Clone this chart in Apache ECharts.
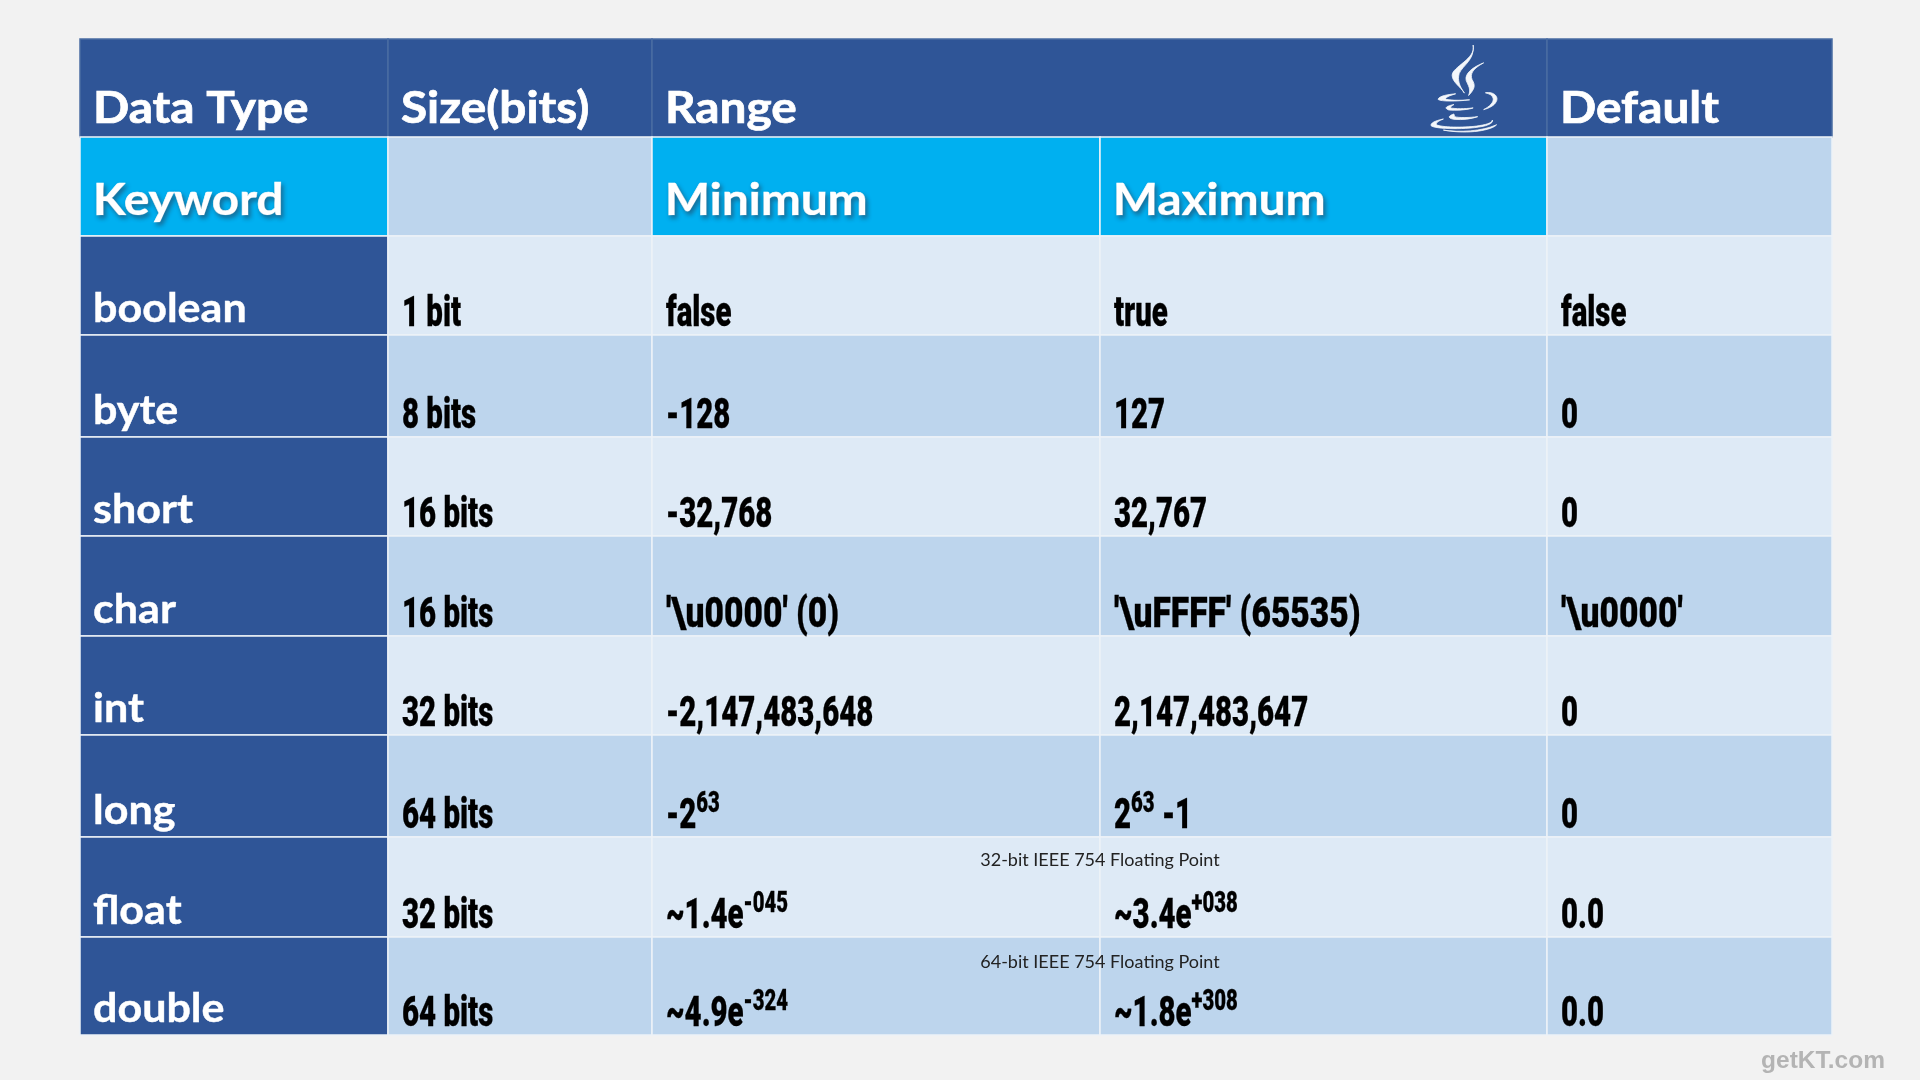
<!DOCTYPE html>
<html><head><meta charset="utf-8">
<style>html,body{margin:0;padding:0;background:#f2f2f2}#c{width:1920px;height:1080px}</style>
<script src="https://cdn.jsdelivr.net/npm/echarts@6/dist/echarts.min.js"></script>
</head><body><div id="c"></div>
<script>
const headerTop = ['Data Type', 'Size(bits)', 'Range', null, 'Default'];
const headerSub = ['Keyword', '', 'Minimum', 'Maximum', ''];
const keywords = ['boolean', 'byte', 'short', 'char', 'int', 'long', 'float', 'double'];
const sizes = ['1 bit', '8 bits', '16 bits', '16 bits', '32 bits', '64 bits', '32 bits', '64 bits'];
const minima = ['false', '-128', '-32,768', "'\\u0000' (0)", '-2,147,483,648', '-2{s|63}', '~1.4e{s|-045}', '~4.9e{s|-324}'];
const maxima = ['true', '127', '32,767', "'\\uFFFF' (65535)", '2,147,483,647', '2{s|63} -1', '~3.4e{s|+038}', '~1.8e{s|+308}'];
const defaults = ['false', '0', '0', "'\\u0000'", '0', '0', '0.0', '0.0'];
const notes = ['32-bit IEEE 754 Floating Point', '64-bit IEEE 754 Floating Point'];
const columnSizes = [308, 264, 448, 447, 285];
const rowSizes = [98, 99, 99, 102, 99, 100, 99, 102, 100, 98];

const DARK = '#2f5597', CYAN = '#00b0f0', L1 = '#deeaf6', L2 = '#bdd5ed', LINE = '#edf2f8';

const kinds = {
  head: { font: 'bold 43px Lato', fill: '#fff', sx: 1.11, bottom: 6, stroke: '#fff', sw: 0.7 },
  sub:  { font: 'bold 43px Lato', fill: '#fff', sx: 1.11, bottom: 13, stroke: '#fff', sw: 0.7,
          shadow: { textShadowColor: '#176a94', textShadowBlur: 4, textShadowOffsetX: 2, textShadowOffsetY: 3 } },
  key:  { font: 'bold 41px Lato', fill: '#fff', sx: 1.05, bottom: 6, stroke: '#fff', sw: 0.4 },
  val:  { font: '900 42px Roboto', fill: '#000', sx: 0.7, bottom: -7, stroke: '#000', sw: 0.3, lineHeight: 54 }
};
const richStyles = {
  s: { fontFamily: 'Roboto', fontWeight: 900, fontSize: 29, lineHeight: 34, fill: '#000', color: '#000', verticalAlign: 'top' }
};

const cells = [], texts = [];
function put(c, r, fill, border, merge) {
  cells.push({
    coord: merge ? [[c, c + 1], r] : [c, r], value: '', mergeCells: !!merge,
    itemStyle: { color: fill, borderColor: border || LINE, borderWidth: 1.5 },
    label: { show: false }
  });
}
headerTop.forEach((t, c) => {
  if (t !== null) { put(c, 0, DARK, '#4a6ca3', t === 'Range'); texts.push({ c, r: 0, t, k: 'head' }); }
});
headerSub.forEach((t, c) => {
  put(c, 1, t ? CYAN : L2);
  if (t) texts.push({ c, r: 1, t, k: 'sub' });
});
keywords.forEach((k, i) => {
  const r = i + 2, fill = i % 2 ? L2 : L1;
  put(0, r, DARK); texts.push({ c: 0, r, t: k, k: 'key' });
  [sizes, minima, maxima, defaults].forEach((col, j) => {
    put(j + 1, r, fill);
    texts.push({ c: j + 1, r, t: col[i], k: 'val' });
  });
});
notes.forEach((t, i) => texts.push({ c: 3, r: 8 + i, t, k: 'note' }));

const logo = [
  'M215,45 C225,85 155,110 155,135 C155,155 180,170 190,188 C175,165 170,150 175,130 C185,105 220,90 215,45 Z',
  'M245,98 C215,110 190,130 195,150 C200,165 210,175 202,195 C220,175 222,165 212,148 C205,130 215,115 245,98 Z',
  'M165,190 C130,193 115,200 115,207 C125,213 165,213 205,208 C175,210 145,210 135,205 C140,198 150,195 165,190 Z',
  'M250,187 C275,182 290,200 280,215 C275,225 260,233 245,237 C262,228 275,215 272,203 C270,193 260,190 250,187 Z',
  'M160,222 C140,226 130,232 145,238 C165,240 200,238 215,232 C190,235 165,235 150,232 C150,228 155,225 160,222 Z',
  'M160,250 C145,255 140,262 160,266 C185,268 210,265 228,258 C205,261 175,262 162,258 Z',
  'M130,265 C105,270 92,278 95,285 C105,295 200,298 250,285 C265,280 272,275 270,268 C268,278 250,282 225,286 C185,291 125,290 110,282 C108,275 118,270 130,265 Z',
  'M130,298 C175,305 240,302 282,282 C270,297 205,312 130,298 Z'
].join(' ');

function drawText(params, api) {
  const it = texts[params.dataIndex];
  const rect = api.layout([it.c, it.r]).rect;
  if (it.k === 'note') {
    return { type: 'text', x: rect.x, y: rect.y + 23.5 + (it.r - 8) * 2,
      style: { text: it.t, fill: '#222', font: '18px Lato', textAlign: 'center', textVerticalAlign: 'middle' } };
  }
  const k = kinds[it.k];
  const sx = it.t.charAt(0) === "'" ? 0.8 : k.sx;
  const xPad = it.k === 'val' ? 14 : 13;
  const style = { text: it.t, fill: k.fill, font: k.font, textAlign: 'left', textVerticalAlign: 'bottom',
    stroke: k.stroke, lineWidth: k.sw, rich: richStyles };
  if (k.lineHeight) style.lineHeight = k.lineHeight;
  return { type: 'text', x: rect.x + xPad, y: rect.y + rect.height - k.bottom, scaleX: sx,
    style: Object.assign(style, k.shadow || {}) };
}

const chart = echarts.init(document.getElementById('c'), null, { renderer: 'canvas' });
chart.setOption({
  animation: false,
  backgroundColor: '#f2f2f2',
  matrix: {
    left: 80, top: 39, right: 88, bottom: 45,
    x: { show: false, data: columnSizes.map((size, i) => ({ value: 'c' + i, size })) },
    y: { show: false, data: rowSizes.map((size, i) => ({ value: 'r' + i, size })) },
    body: { data: cells, itemStyle: { borderColor: LINE, borderWidth: 1.5 } },
    backgroundStyle: { color: 'transparent', borderWidth: 0 }
  },
  series: [
    { type: 'custom', coordinateSystem: 'matrix', silent: true, z: 40, clip: false,
      data: texts.map(o => [o.c, o.r]), renderItem: drawText },
    { type: 'custom', coordinateSystem: 'none', silent: true, z: 50, data: [0],
      renderItem: () => ({ type: 'path',
        shape: { pathData: logo, x: 1431, y: 45, width: 66, height: 87, layout: 'cover' },
        style: { fill: '#f4f7fb', stroke: '#f4f7fb', lineWidth: 0.8 } }) }
  ],
  graphic: [
    { type: 'text', x: 1823, y: 1061, z: 100, style: { text: 'getKT.com', fill: '#b4b4b4', font: 'bold 24.5px "Liberation Sans"', textAlign: 'center', textVerticalAlign: 'middle' } }
  ]
});
</script></body></html>
